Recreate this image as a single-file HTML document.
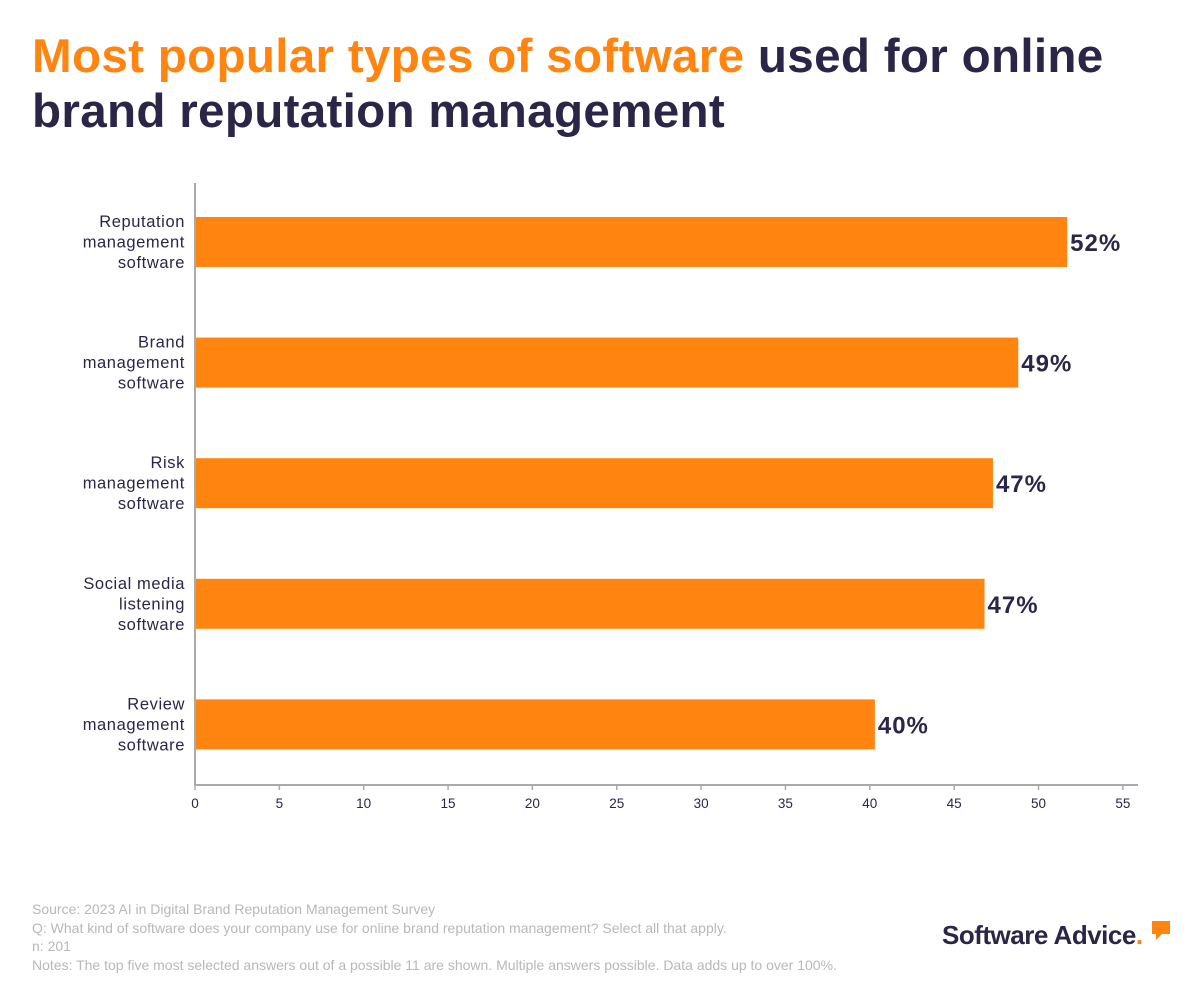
<!DOCTYPE html>
<html><head><meta charset="utf-8"><style>
body{margin:0;width:1200px;height:1000px;background:#fff;overflow:hidden;font-family:"Liberation Sans",sans-serif;}
#title{position:absolute;left:32px;top:29px;margin:0;font-size:47.6px;line-height:55px;font-weight:bold;color:#2b2647;letter-spacing:0.3px}
#title span{color:#ff8410}
#notes{position:absolute;left:32px;top:900px;font-size:14px;line-height:18.5px;color:#b8b8b8}
#logo{position:absolute;left:942px;top:920px;font-size:26px;font-weight:bold;color:#2b2647;letter-spacing:-0.5px}
</style></head><body>
<h1 id="title"><span>Most popular types of software</span> used for online brand reputation management</h1>
<svg id="chart" width="1200" height="1000" style="position:absolute;left:0;top:0"></svg>
<div id="notes">Source: 2023 AI in Digital Brand Reputation Management Survey<br>Q: What kind of software does your company use for online brand reputation management? Select all that apply.<br>n: 201<br>Notes: The top five most selected answers out of a possible 11 are shown. Multiple answers possible. Data adds up to over 100%.</div>
<div id="logo">Software Advice<span style="color:#ff8410">.</span><svg width="22" height="22" style="position:absolute;left:208px;top:0px"><path d="M2 1h18v13h-8l-6 6v-6h-4z" fill="#ff8410"/></svg></div>
<script>
const categories=[["Reputation","management","software"],["Brand","management","software"],["Risk","management","software"],["Social media","listening","software"],["Review","management","software"]];
const values=[51.7,48.8,47.3,46.8,40.3];
const valueLabels=["52%","49%","47%","47%","40%"];
const ticks=[0,5,10,15,20,25,30,35,40,45,50,55];
const NS="http://www.w3.org/2000/svg",svg=document.getElementById('chart');
const x0=195,xs=16.87,yTop=183,yBot=785,band=120.6,first=242,bh=50;
const X=v=>x0+v*xs, Y=i=>first+i*band;
function mk(t,a,p){const e=document.createElementNS(NS,t);for(const k in a)e.setAttribute(k,a[k]);(p||svg).appendChild(e);return e;}
let e=mk('line',{x1:x0,y1:yTop,x2:x0,y2:yBot,stroke:'#aaa','stroke-width':2});


e=mk('line',{x1:x0,y1:yBot,x2:1138,y2:yBot,stroke:'#aaa','stroke-width':2});


ticks.forEach(t=>{
 mk('line',{x1:X(t),y1:yBot,x2:X(t),y2:yBot+5,stroke:'#aaa','stroke-width':1.5});
 const tx=mk('text',{x:X(t),y:yBot+23,'text-anchor':'middle','font-size':13.5,fill:'#2b2647'});
 tx.textContent=t;
 
 
});
values.forEach((v,i)=>{
 const r=mk('rect',{x:x0+1,y:Y(i)-bh/2,width:X(v)-x0-1,height:bh,fill:'#ff8410'});
 
 
 const l=mk('text',{x:X(v)+3,y:Y(i)+9,'font-size':24,'font-weight':'bold',fill:'#2b2647','letter-spacing':1});
 l.textContent=valueLabels[i];
 
 
 const c=mk('text',{'text-anchor':'end','font-size':16.5,fill:'#2b2647','letter-spacing':0.6});
 
 
 categories[i].forEach((s,j)=>{const ts=mk('tspan',{x:185,y:Y(i)-15+j*20.5},c);ts.textContent=s;});
});
</script>
</body></html>
